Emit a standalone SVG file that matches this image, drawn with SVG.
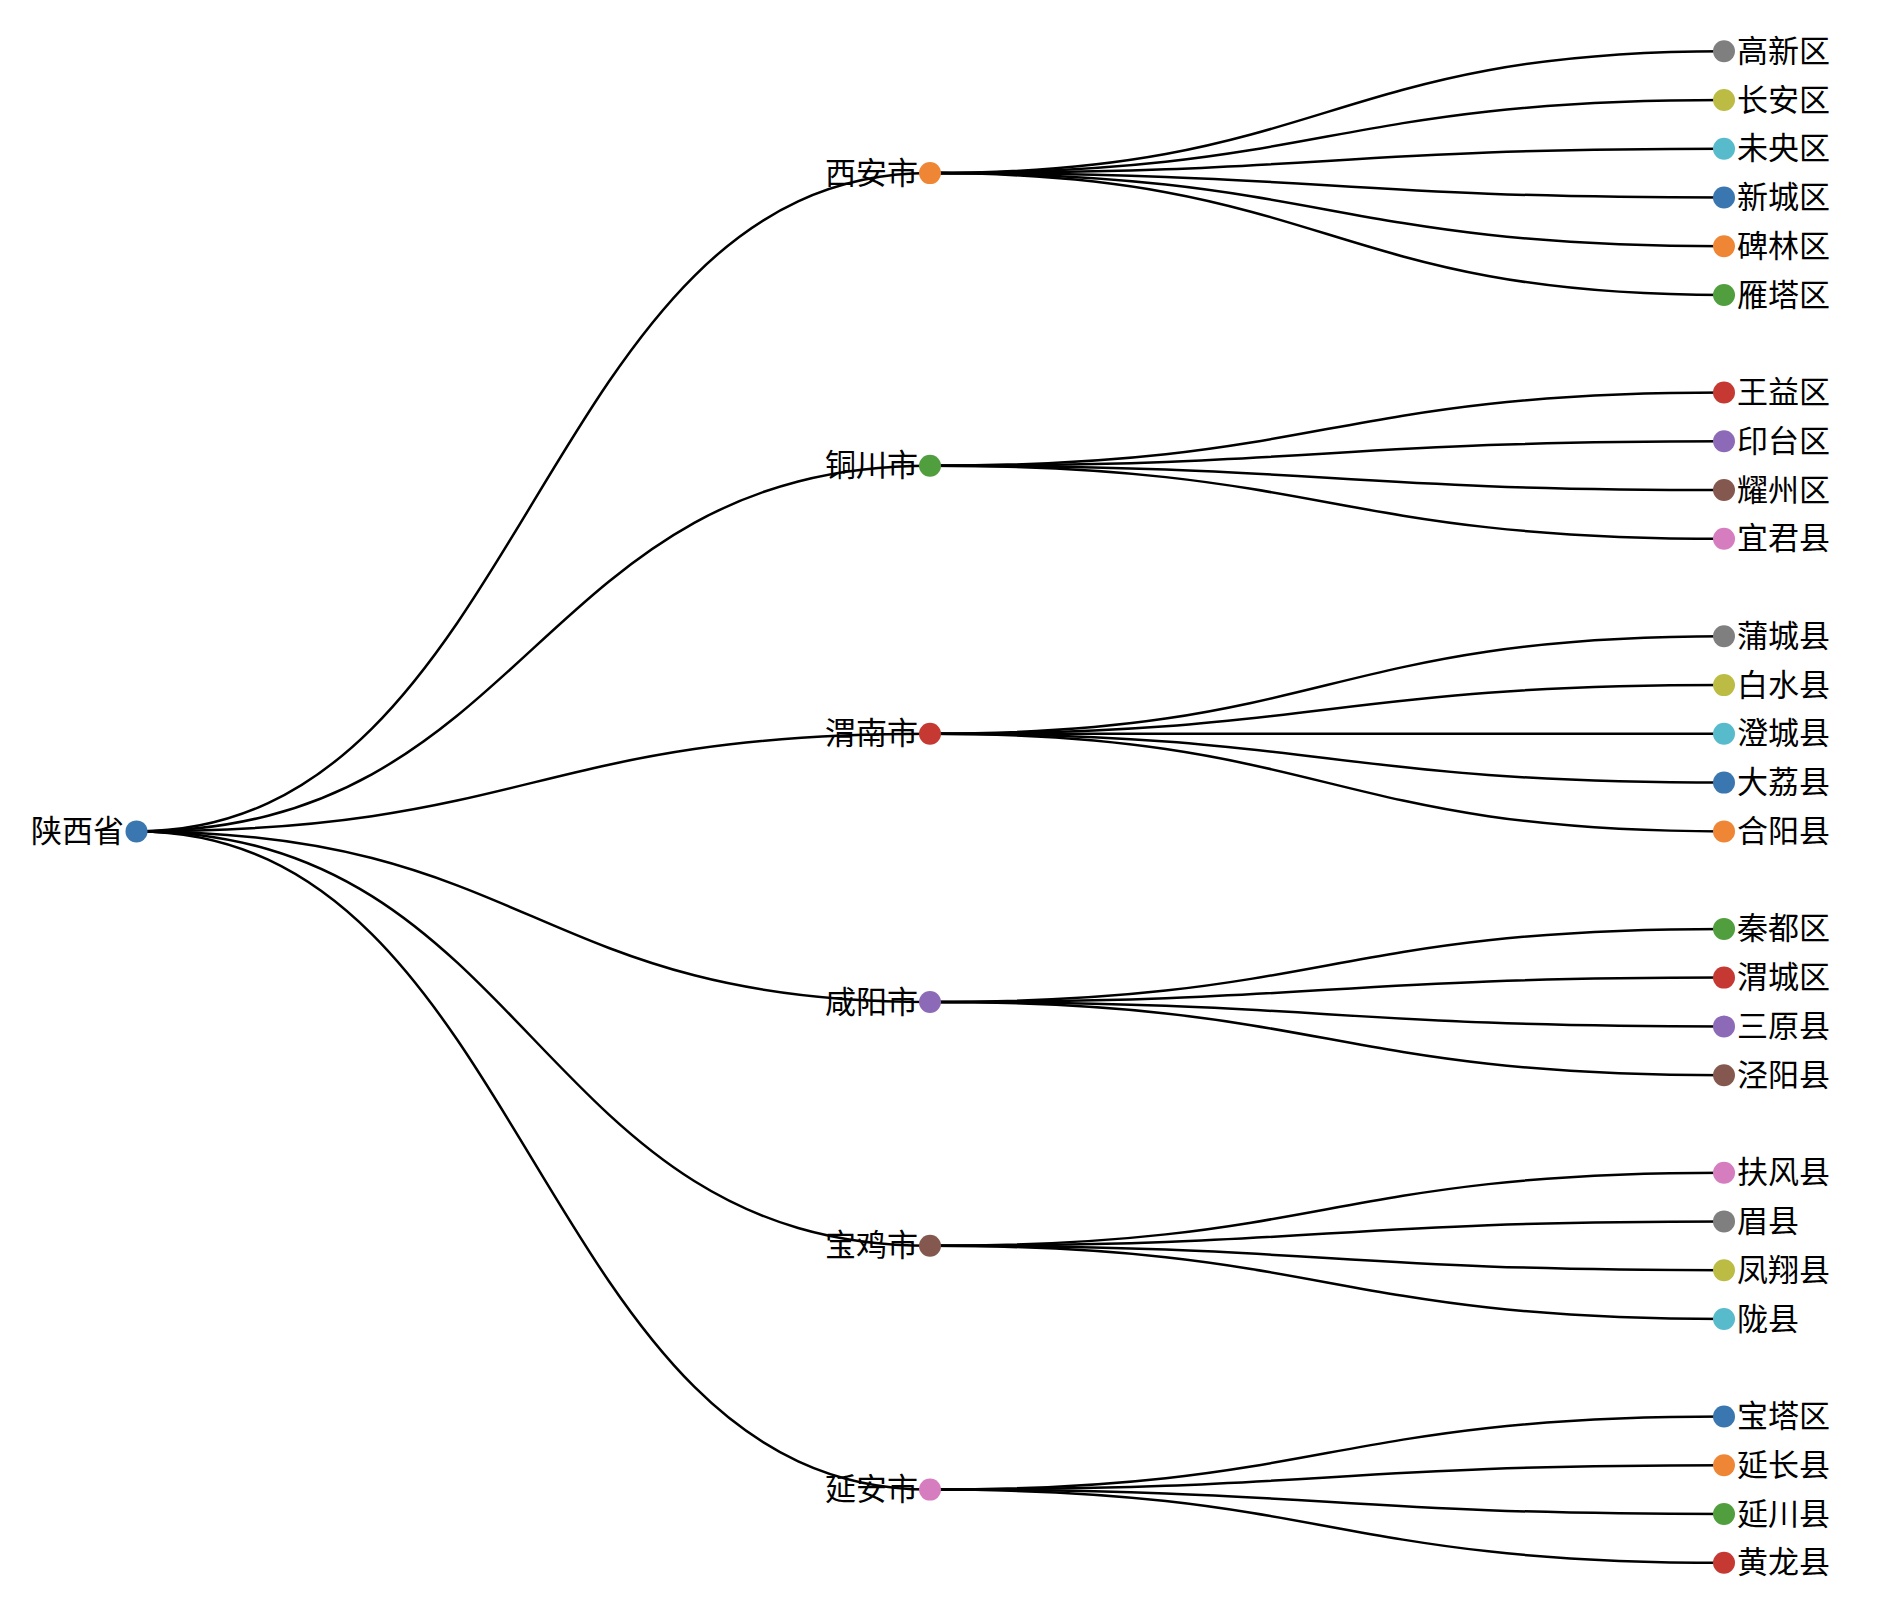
<svg xmlns="http://www.w3.org/2000/svg" width="1902" height="1624" viewBox="0 0 1902 1624">
<style>
.l{fill:none;stroke:#000;stroke-width:2.5}
text{font-family:"Liberation Sans","Noto Sans CJK SC",sans-serif;font-size:31px;dominant-baseline:central}
.e{text-anchor:end}
.c0{fill:#3a76af}.c1{fill:#ef8636}.c2{fill:#519e3e}.c3{fill:#c53932}.c4{fill:#8d6ab8}.c5{fill:#84584e}.c6{fill:#d57dbf}.c7{fill:#7f7f7f}.c8{fill:#bcbc45}.c9{fill:#58bbcc}
</style>
<rect width="1902" height="1624" fill="#fff"/>
<g id="links">
<path class="l" d="M136.5,831.4C533,831.4 533,173.1 930,173.1"/>
<path class="l" d="M136.5,831.4C533,831.4 533,465.7 930,465.7"/>
<path class="l" d="M136.5,831.4C533,831.4 533,733.8 930,733.8"/>
<path class="l" d="M136.5,831.4C533,831.4 533,1002 930,1002"/>
<path class="l" d="M136.5,831.4C533,831.4 533,1245.8 930,1245.8"/>
<path class="l" d="M136.5,831.4C533,831.4 533,1489.6 930,1489.6"/>
<path class="l" d="M930,173.1C1327,173.1 1327,51.2 1724,51.2"/>
<path class="l" d="M930,173.1C1327,173.1 1327,100 1724,100"/>
<path class="l" d="M930,173.1C1327,173.1 1327,148.7 1724,148.7"/>
<path class="l" d="M930,173.1C1327,173.1 1327,197.5 1724,197.5"/>
<path class="l" d="M930,173.1C1327,173.1 1327,246.2 1724,246.2"/>
<path class="l" d="M930,173.1C1327,173.1 1327,295 1724,295"/>
<path class="l" d="M930,465.7C1327,465.7 1327,392.5 1724,392.5"/>
<path class="l" d="M930,465.7C1327,465.7 1327,441.3 1724,441.3"/>
<path class="l" d="M930,465.7C1327,465.7 1327,490 1724,490"/>
<path class="l" d="M930,465.7C1327,465.7 1327,538.8 1724,538.8"/>
<path class="l" d="M930,733.8C1327,733.8 1327,636.3 1724,636.3"/>
<path class="l" d="M930,733.8C1327,733.8 1327,685.1 1724,685.1"/>
<path class="l" d="M930,733.8C1327,733.8 1327,733.8 1724,733.8"/>
<path class="l" d="M930,733.8C1327,733.8 1327,782.6 1724,782.6"/>
<path class="l" d="M930,733.8C1327,733.8 1327,831.4 1724,831.4"/>
<path class="l" d="M930,1002C1327,1002 1327,928.9 1724,928.9"/>
<path class="l" d="M930,1002C1327,1002 1327,977.6 1724,977.6"/>
<path class="l" d="M930,1002C1327,1002 1327,1026.4 1724,1026.4"/>
<path class="l" d="M930,1002C1327,1002 1327,1075.2 1724,1075.2"/>
<path class="l" d="M930,1245.8C1327,1245.8 1327,1172.7 1724,1172.7"/>
<path class="l" d="M930,1245.8C1327,1245.8 1327,1221.4 1724,1221.4"/>
<path class="l" d="M930,1245.8C1327,1245.8 1327,1270.2 1724,1270.2"/>
<path class="l" d="M930,1245.8C1327,1245.8 1327,1319 1724,1319"/>
<path class="l" d="M930,1489.6C1327,1489.6 1327,1416.5 1724,1416.5"/>
<path class="l" d="M930,1489.6C1327,1489.6 1327,1465.2 1724,1465.2"/>
<path class="l" d="M930,1489.6C1327,1489.6 1327,1514 1724,1514"/>
<path class="l" d="M930,1489.6C1327,1489.6 1327,1562.8 1724,1562.8"/>
</g>
<g id="n-root"><circle class="c0" cx="136.5" cy="831.4" r="11"/><text class="e" x="124" y="831.4">陕西省</text></g>
<g id="n-xian"><circle class="c1" cx="930" cy="173.1" r="11"/><text class="e" x="918" y="173.1">西安市</text></g>
<g id="n-tongchuan"><circle class="c2" cx="930" cy="465.7" r="11"/><text class="e" x="918" y="465.7">铜川市</text></g>
<g id="n-weinan"><circle class="c3" cx="930" cy="733.8" r="11"/><text class="e" x="918" y="733.8">渭南市</text></g>
<g id="n-xianyang"><circle class="c4" cx="930" cy="1002" r="11"/><text class="e" x="918" y="1002">咸阳市</text></g>
<g id="n-baoji"><circle class="c5" cx="930" cy="1245.8" r="11"/><text class="e" x="918" y="1245.8">宝鸡市</text></g>
<g id="n-yanan"><circle class="c6" cx="930" cy="1489.6" r="11"/><text class="e" x="918" y="1489.6">延安市</text></g>
<g id="n1"><circle class="c7" cx="1724" cy="51.2" r="11"/><text x="1737" y="51.2">高新区</text></g>
<g id="n2"><circle class="c8" cx="1724" cy="100" r="11"/><text x="1737" y="100">长安区</text></g>
<g id="n3"><circle class="c9" cx="1724" cy="148.7" r="11"/><text x="1737" y="148.7">未央区</text></g>
<g id="n4"><circle class="c0" cx="1724" cy="197.5" r="11"/><text x="1737" y="197.5">新城区</text></g>
<g id="n5"><circle class="c1" cx="1724" cy="246.2" r="11"/><text x="1737" y="246.2">碑林区</text></g>
<g id="n6"><circle class="c2" cx="1724" cy="295" r="11"/><text x="1737" y="295">雁塔区</text></g>
<g id="n7"><circle class="c3" cx="1724" cy="392.5" r="11"/><text x="1737" y="392.5">王益区</text></g>
<g id="n8"><circle class="c4" cx="1724" cy="441.3" r="11"/><text x="1737" y="441.3">印台区</text></g>
<g id="n9"><circle class="c5" cx="1724" cy="490" r="11"/><text x="1737" y="490">耀州区</text></g>
<g id="n10"><circle class="c6" cx="1724" cy="538.8" r="11"/><text x="1737" y="538.8">宜君县</text></g>
<g id="n11"><circle class="c7" cx="1724" cy="636.3" r="11"/><text x="1737" y="636.3">蒲城县</text></g>
<g id="n12"><circle class="c8" cx="1724" cy="685.1" r="11"/><text x="1737" y="685.1">白水县</text></g>
<g id="n13"><circle class="c9" cx="1724" cy="733.8" r="11"/><text x="1737" y="733.8">澄城县</text></g>
<g id="n14"><circle class="c0" cx="1724" cy="782.6" r="11"/><text x="1737" y="782.6">大荔县</text></g>
<g id="n15"><circle class="c1" cx="1724" cy="831.4" r="11"/><text x="1737" y="831.4">合阳县</text></g>
<g id="n16"><circle class="c2" cx="1724" cy="928.9" r="11"/><text x="1737" y="928.9">秦都区</text></g>
<g id="n17"><circle class="c3" cx="1724" cy="977.6" r="11"/><text x="1737" y="977.6">渭城区</text></g>
<g id="n18"><circle class="c4" cx="1724" cy="1026.4" r="11"/><text x="1737" y="1026.4">三原县</text></g>
<g id="n19"><circle class="c5" cx="1724" cy="1075.2" r="11"/><text x="1737" y="1075.2">泾阳县</text></g>
<g id="n20"><circle class="c6" cx="1724" cy="1172.7" r="11"/><text x="1737" y="1172.7">扶风县</text></g>
<g id="n21"><circle class="c7" cx="1724" cy="1221.4" r="11"/><text x="1737" y="1221.4">眉县</text></g>
<g id="n22"><circle class="c8" cx="1724" cy="1270.2" r="11"/><text x="1737" y="1270.2">凤翔县</text></g>
<g id="n23"><circle class="c9" cx="1724" cy="1319" r="11"/><text x="1737" y="1319">陇县</text></g>
<g id="n24"><circle class="c0" cx="1724" cy="1416.5" r="11"/><text x="1737" y="1416.5">宝塔区</text></g>
<g id="n25"><circle class="c1" cx="1724" cy="1465.2" r="11"/><text x="1737" y="1465.2">延长县</text></g>
<g id="n26"><circle class="c2" cx="1724" cy="1514" r="11"/><text x="1737" y="1514">延川县</text></g>
<g id="n27"><circle class="c3" cx="1724" cy="1562.8" r="11"/><text x="1737" y="1562.8">黄龙县</text></g>
</svg>
